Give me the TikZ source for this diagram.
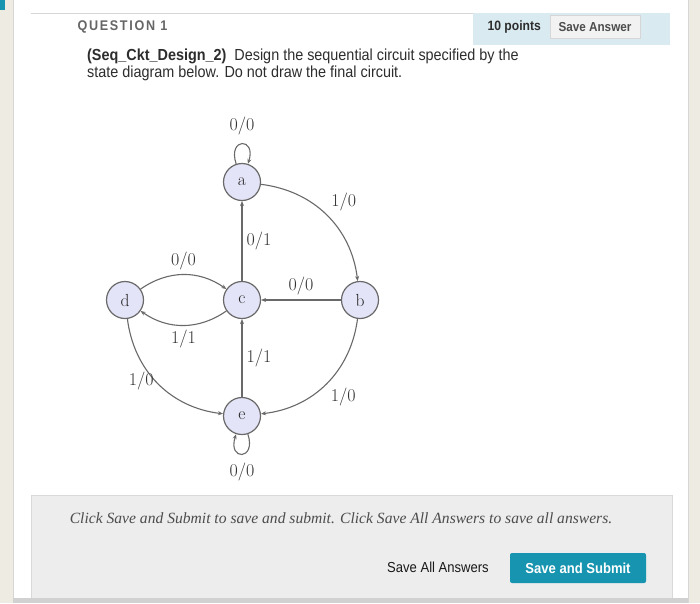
\documentclass[tikz,border=0pt]{standalone}
\usepackage{fontspec}
\newfontfamily\uifont[FakeStretch=0.9]{Liberation Sans}
\newfontfamily\notefont{Liberation Serif}
\usetikzlibrary{arrows.meta}
\definecolor{pageside}{RGB}{238,236,226}
\definecolor{headblue}{RGB}{217,234,241}
\definecolor{rulegray}{RGB}{214,214,214}
\definecolor{statefill}{RGB}{228,228,248}
\definecolor{edgegray}{RGB}{105,105,105}
\definecolor{submitteal}{RGB}{22,148,176}
\definecolor{panelgray}{RGB}{237,237,237}
\definecolor{inkgray}{RGB}{45,45,45}
\begin{document}
\begin{tikzpicture}[x=1pt,y=-1pt,
  state/.style={draw=edgegray,circle,fill=statefill,minimum size=37pt,inner sep=0pt,line width=1.2pt,font=\fontsize{17.5}{17.5}\selectfont,text=black!85},
  trans/.style={draw=edgegray,line width=1.1pt,-{Stealth[length=5pt,width=4pt]}},
  io/.style={font=\fontsize{18}{18}\selectfont,text=black!80,inner sep=4pt},
  ui/.style={font=\uifont\fontsize{16}{16.5}\selectfont,text=inkgray}]
  \useasboundingbox (0,0) rectangle (700,603);
  \fill[pageside] (0,0) rectangle (700,603);
  \fill[white] (13,0) rectangle (688,603);
  \draw[rulegray] (13,0) -- (13,603) (688,0) -- (688,603);
  \fill[submitteal] (0,0) rectangle (5,10);
  \draw[rulegray] (31,13) -- (473,13);
  \fill[headblue] (473,13) rectangle (670,45);
  \node[ui, anchor=west, text=black!60, font=\uifont\fontsize{14}{14}\selectfont\addfontfeatures{LetterSpace=12}] (qtitle) at (74,27) {\textbf{QUESTION 1}};
  \node[ui, anchor=west, font=\uifont\fontsize{13.5}{14}\selectfont] (points) at (484,27) {\textbf{10 points}};
  \node[ui, draw=rulegray, fill=black!5, minimum width=90pt, minimum height=23pt, font=\uifont\fontsize{13}{14}\selectfont, text=black!70] (saveans) at (595,27) {\textbf{Save Answer}};
  \node[ui, anchor=north west, align=left, inner sep=0pt] (qtext) at (87,49) {\textbf{(Seq\_Ckt\_Design\_2)}\ \ Design the sequential circuit specified by the\\state diagram below. Do not draw the final circuit.};

  \node[state] (a) at (242,182) {a};
  \node[state] (c) at (242,300) {c};
  \node[state] (d) at (125,300) {d};
  \node[state] (b) at (360,300) {b};
  \node[state] (e) at (242,416) {e};

  \path (a) edge[trans, loop above, out=108, in=72, min distance=28pt] node[io, above, inner sep=8pt] {0/0} (a);
  \draw[trans] (a) to[bend left=38] node[io, above right, inner sep=4pt] {1/0} (b);
  \draw[trans] (c) -- node[io, right] {0/1} (a);
  \draw[trans] (d) to[bend left=35] node[io, above] {0/0} (c);
  \draw[trans] (c) to[bend left=35] node[io, below] {1/1} (d);
  \draw[trans] (b) -- node[io, above] {0/0} (c);
  \draw[trans] (e) -- node[io, right] {1/1} (c);
  \draw[trans] (d) to[bend right=38] node[io, left, pos=0.47, inner sep=1pt] {1/0} (e);
  \draw[trans] (b) to[bend left=38] node[io, below right, inner sep=4pt] {1/0} (e);
  \path (e) edge[trans, loop below, out=288, in=252, min distance=28pt] node[io, below, inner sep=8pt] {0/0} (e);

  \fill[panelgray] (31,495) rectangle (672,598);
  \draw[black!15] (31,598) -- (31,495) -- (672,495) -- (672,598);
  \node[font=\notefont\itshape\fontsize{15.6}{15.6}\selectfont, text=black!70] (note) at (341,518) {Click Save and Submit to save and submit. Click Save All Answers to save all answers.};
  \node[ui, font=\uifont\fontsize{14.5}{15}\selectfont, text=black!90] (saveall) at (438,567) {Save All Answers};
  \node[ui, fill=submitteal, rounded corners=2pt, minimum width=136pt, minimum height=30pt, text=white, font=\uifont\fontsize{14.5}{15}\selectfont] (submit) at (578,568) {\textbf{Save and Submit}};
  \fill[black!18] (13,598) rectangle (688,603);
\end{tikzpicture}
\end{document}
